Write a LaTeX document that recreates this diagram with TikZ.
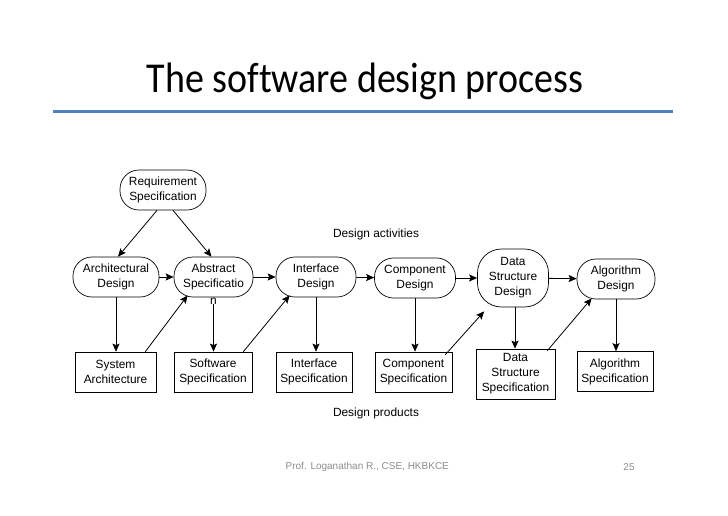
\documentclass[tikz,border=0pt]{standalone}
\usepackage{fontspec}
\setmainfont{Liberation Sans}
\newfontfamily\titlefont[Ligatures=NoCommon]{Carlito}
\usetikzlibrary{arrows.meta}
\definecolor{slideblue}{RGB}{79,129,189}
\definecolor{footgray}{RGB}{140,140,140}
\tikzset{
  activity/.style={draw, rounded corners=19pt, minimum height=40pt, inner sep=2pt, align=center},
  product/.style={draw, minimum height=40pt, inner sep=2pt, align=center},
  flow/.style={-{Stealth[length=8pt, width=7pt, inset=1.5pt]}, line width=0.8pt}
}
\begin{document}
\begin{tikzpicture}[x=1pt, y=-1pt, line width=0.7pt,
                    every node/.style={font=\fontsize{11.9}{15}\selectfont}]
  \useasboundingbox (0,0) rectangle (728,515);

  % Title and rule
  \node[anchor=base, yscale=1.12, transform shape, font=\titlefont\fontsize{38}{44}\selectfont] (title) at (365,92) {The software design process};
  \draw[slideblue, line width=3pt] (53,111) -- (673,111);

  % Requirement
  \node[activity, minimum width=86pt] (req) at (163,190) {Requirement\\Specification};

  % Design activities
  \node[activity, minimum width=86pt] (arch) at (116,277) {Architectural\\Design};
  \node[activity, minimum width=79pt, label={[inner sep=0pt, name=absn]below:n}] (abs) at (213.5,277) {Abstract\\Specificatio};
  \node[activity, minimum width=80pt] (intd) at (316,277) {Interface\\Design};
  \node[activity, minimum width=81pt] (compd) at (415,278) {Component\\Design};
  \node[activity, rounded corners=24pt, minimum width=71pt, minimum height=58pt] (dsd) at (513,278) {Data\\Structure\\Design};
  \node[activity, minimum width=78pt] (algd) at (616,279) {Algorithm\\Design};

  % Design products
  \node[product, minimum width=81pt] (sysa) at (115.5,372) {System\\Architecture};
  \node[product, minimum width=78pt] (sws) at (213,372) {Software\\Specification};
  \node[product, minimum width=76pt] (ints) at (314,372) {Interface\\Specification};
  \node[product, minimum width=77pt] (comps) at (413.5,372) {Component\\Specification};
  \node[product, minimum width=79pt, minimum height=50pt] (dss) at (515.5,374) {Data\\Structure\\Specification};
  \node[product, minimum width=76pt] (algs) at (615,371.5) {Algorithm\\Specification};

  % Labels
  \node (actlbl) at (376,234) {Design activities};
  \node (prodlbl) at (376,413) {Design products};

  % Arrows from requirement
  \draw[flow] ([xshift=-6pt]req.south) -- ([xshift=2pt]arch.north);
  \draw[flow] ([xshift=10pt]req.south) -- ([xshift=-2pt]abs.north);

  % Horizontal arrows
  \draw[flow] (arch) -- (abs);
  \draw[flow] (abs) -- (intd);
  \draw[flow] (intd) -- (compd);
  \draw[flow] (compd) -- (dsd);
  \draw[flow] (dsd) -- (algd);

  % Vertical arrows
  \draw[flow] (arch.south) -- (arch.south |- sysa.north);
  \draw[flow] (absn.south) -- (absn.south |- sws.north);
  \draw[flow] (intd.south) -- (intd.south |- ints.north);
  \draw[flow] (compd.south) -- (compd.south |- comps.north);
  \draw[flow] ([xshift=2pt]dsd.south) -- ([xshift=2pt]dsd.south |- dss.north);
  \draw[flow] (algd.south) -- (algd.south |- algs.north);

  % Diagonal arrows
  \draw[flow] ([xshift=-11pt]sysa.north east) -- ([xshift=14pt, yshift=2pt]abs.south west);
  \draw[flow] ([xshift=-9pt]sws.north east) -- ([xshift=14pt, yshift=2pt]intd.south west);
  \draw[flow] ([xshift=-7pt, yshift=-3pt]comps.north east) -- ([xshift=7pt, yshift=-4pt]dsd.south west);
  \draw[flow] ([xshift=-8pt, yshift=-2pt]dss.north east) -- ([xshift=15pt, yshift=1pt]algd.south west);

  % Footer
  \node[anchor=west, text=footgray, font=\fontsize{10}{12}\selectfont] (foot) at (282,467) {Prof. Loganathan R., CSE, HKBKCE};
  \node[text=footgray, font=\fontsize{10}{12}\selectfont] (page) at (629,467) {25};
\end{tikzpicture}
\end{document}
